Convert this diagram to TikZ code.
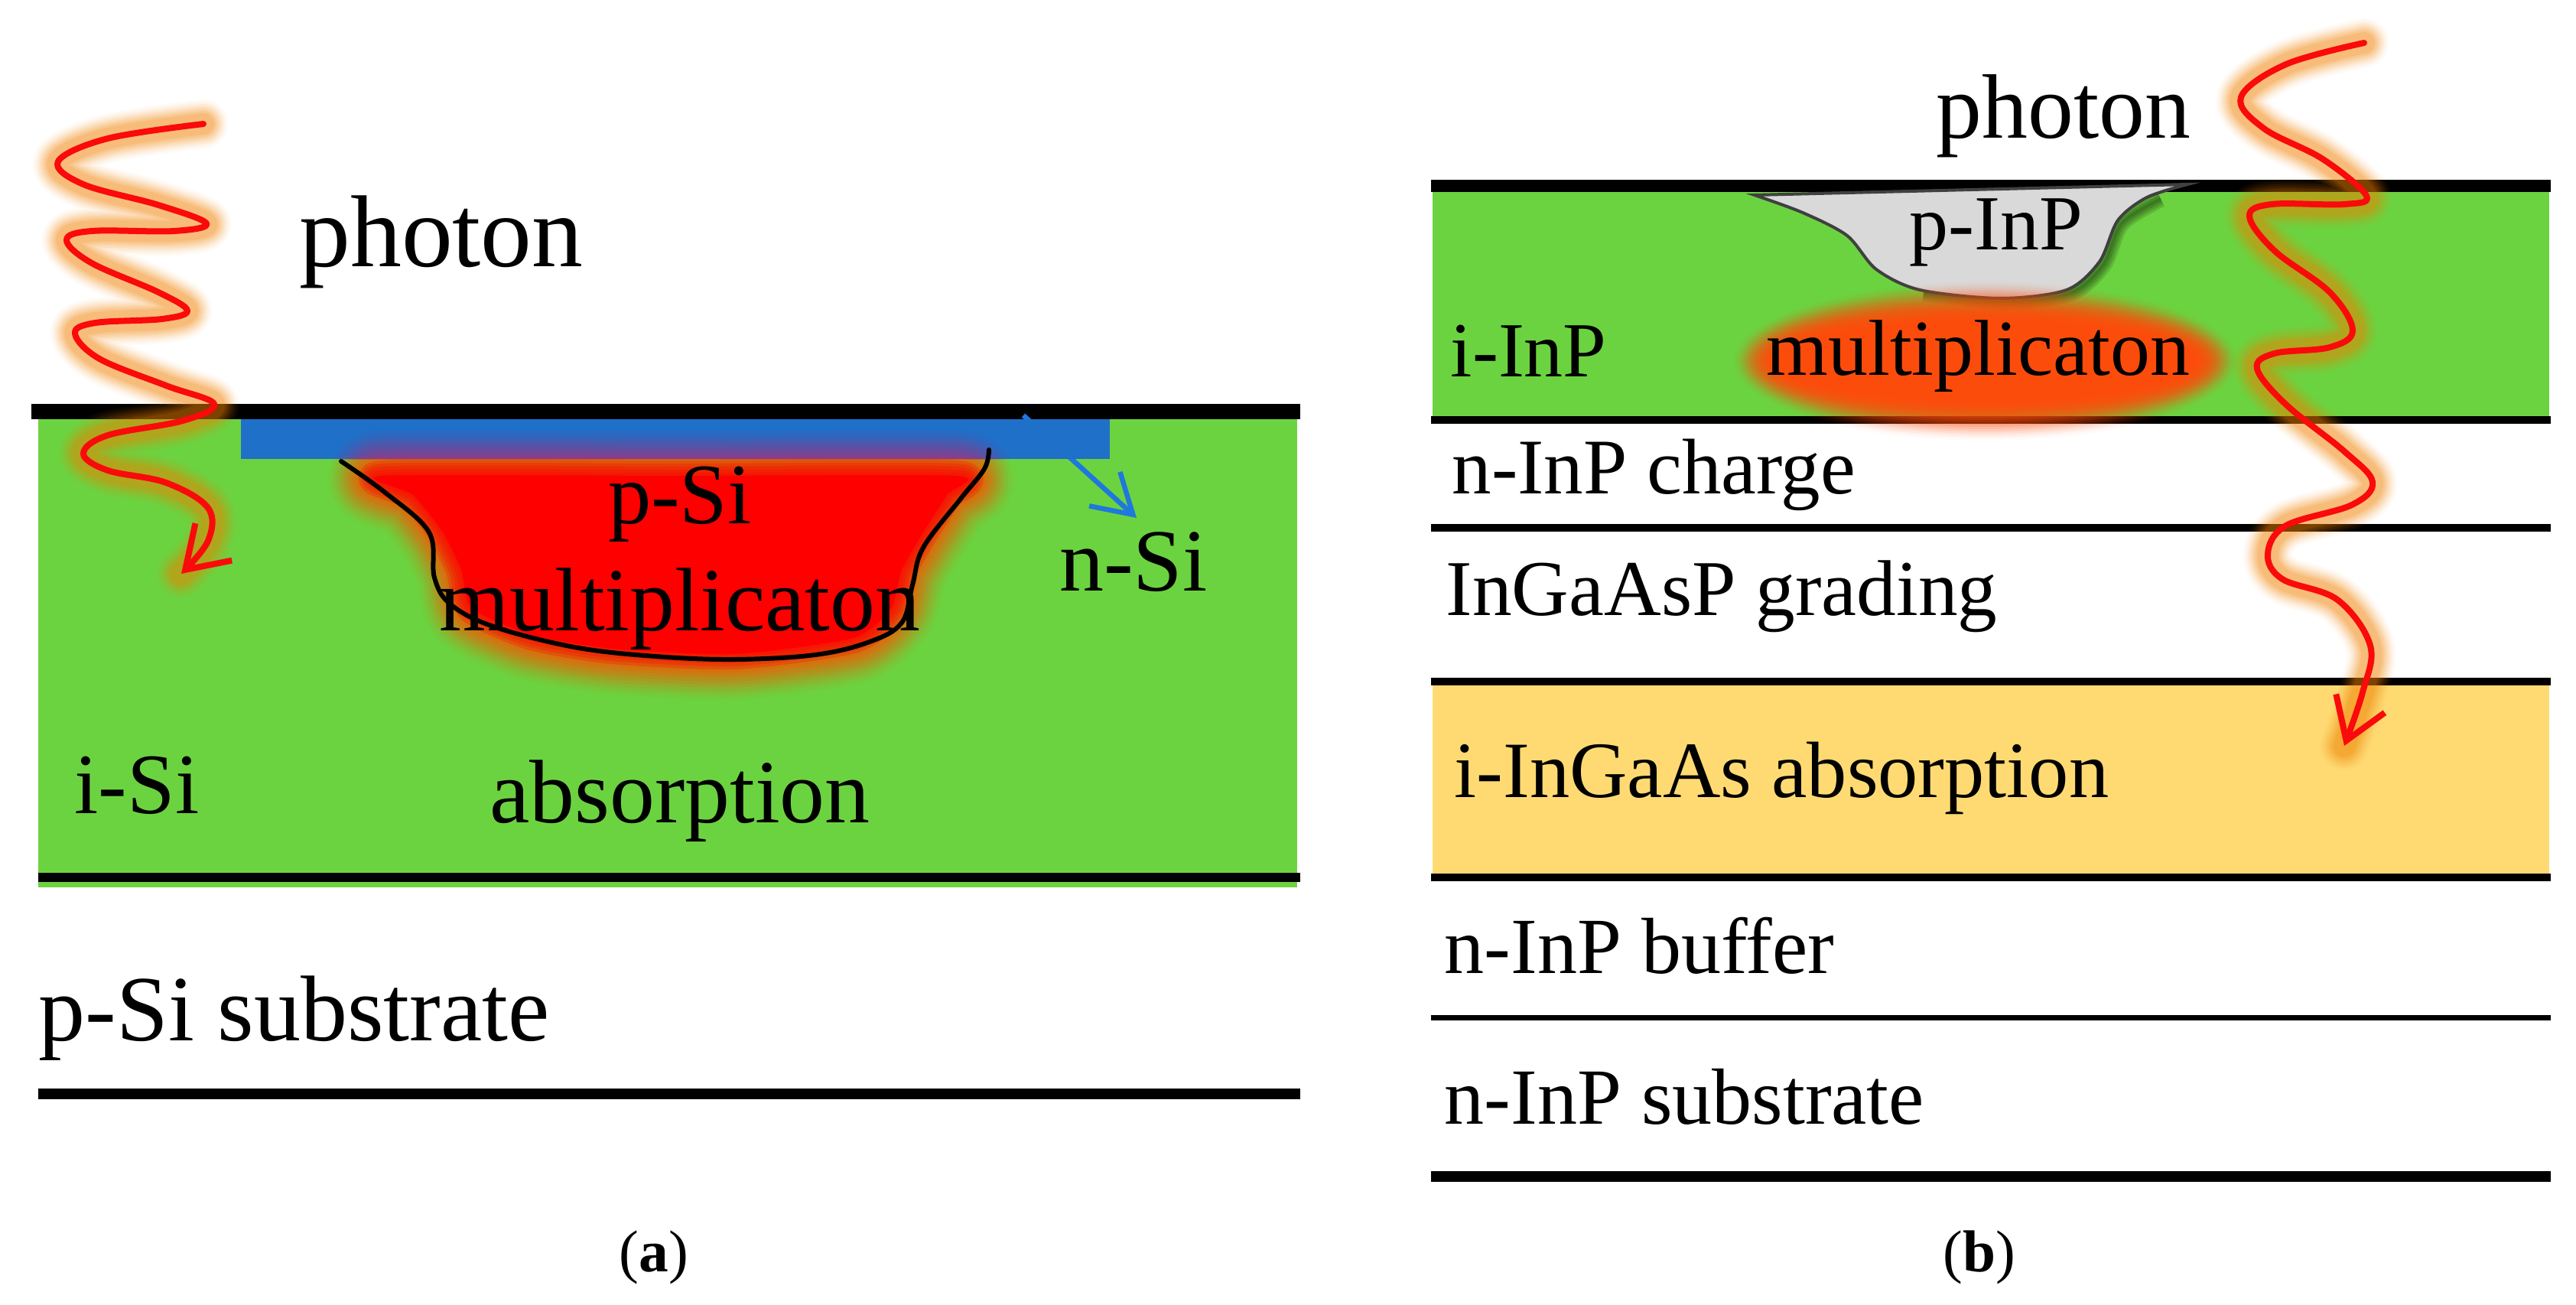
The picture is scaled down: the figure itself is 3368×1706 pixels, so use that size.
\documentclass[tikz,border=0pt]{standalone}
\usepackage{fontspec}
\setmainfont{Liberation Serif}
\usetikzlibrary{arrows.meta}
\definecolor{layergreen}{HTML}{6CD340}
\definecolor{layeryellow}{HTML}{FFDA73}
\definecolor{contactblue}{HTML}{1F70C8}
\definecolor{arrowblue}{HTML}{1F78DC}
\definecolor{glowpurple}{HTML}{B03078}
\definecolor{gloworange}{HTML}{FF5000}
\definecolor{coreorange}{HTML}{FF4C0C}
\definecolor{glowpale}{HTML}{F08000}
\definecolor{photonred}{HTML}{FA0A0A}
\tikzset{
 barline/.style={draw=black,line width=#1*0.01cm},
 photonline/.style={draw=photonred,line width=0.08cm,line cap=round,line join=round,-{Straight Barb[length=0.52cm,width=0.68cm]}},
 photonglow/.style={draw=glowpale,opacity=#1,line cap=round,line join=round},
 layerlabel/.style={anchor=base west,inner sep=0pt,font=\fontsize{#1}{#1}\selectfont},
 midlabel/.style={anchor=base,inner sep=0pt,font=\fontsize{#1}{#1}\selectfont},
 panellabel/.style={anchor=base,inner sep=0pt,font=\fontsize{22}{22}\selectfont}
}
\def\photonapath{plot[smooth,tension=0.6] coordinates {(266,162)(141,181)(76,211)(109,241)(207,268)(270,292)(228,302)(120,302)(87,314)(120,344)(207,382)(245,406)(212,417)(125,422)(98,436)(130,469)(217,504)(280,528)(239,550)(141,569)(109,593)(141,615)(217,631)(272,664)(272,707)(237,750)}}
\def\photonbpath{plot[smooth,tension=0.6] coordinates {(3091,56)(2989,84)(2930,127)(2960,168)(3037,208)(3094,256)(3065,267)(2970,267)(2941,283)(2974,328)(3046,382)(3076,432)(3046,454)(2974,462)(2951,482)(2989,529)(3065,590)(3102,630)(3075,660)(2989,687)(2965,724)(2984,757)(3056,784)(3099,844)(3089,905)(3065,975)}}
\def\blobpath{plot[smooth cycle,tension=0.4] coordinates {(500,622)(880,622)(1250,622)(1238,647)(1207,696)(1179,745)(1165,795)(1116,834)(961,855)(800,848)(695,830)(617,795)(603,745)(579,696)(540,647)}}
\begin{document}
\begin{tikzpicture}[x=0.01cm,y=-0.01cm]
 \useasboundingbox (0,0) rectangle (3368,1706);
 \fill[layergreen](50,548) rectangle (1696,1160);
 \fill[contactblue](315,548) rectangle (1451,600);
 \draw[barline=20](41,538)--(1700,538);
 \draw[barline=12](50,1147)--(1700,1147);
 \draw[barline=14](50,1430)--(1700,1430);
 \coordinate (bluestart) at (1338,543);
 \coordinate (blueend) at (1486,677);
 \draw[arrowblue,line width=0.065cm,-{Straight Barb[length=0.5cm,width=0.6cm]}](bluestart)--(blueend);
 \fill[contactblue](1300,548) rectangle (1451,600);
 \begin{scope}
  \clip (300,540) rectangle (1460,600);
  \foreach \w/\o in {120/0.03,112/0.05,104/0.07,96/0.09,88/0.11,80/0.13,72/0.15,64/0.17,56/0.19,48/0.21}
   \draw[glowpurple,opacity=\o,line width=\w*0.01cm,line join=round]\blobpath;
 \end{scope}
 \begin{scope}
  \clip (300,600) rectangle (1460,1000);
  \foreach \w/\o in {120/0.03,112/0.05,104/0.07,96/0.09,88/0.11,80/0.13,72/0.15,64/0.17,56/0.19,48/0.21}
   \draw[gloworange,opacity=\o,line width=\w*0.01cm,line join=round]\blobpath;
  \foreach \w in {40,32,24,16,8}
   \draw[red,opacity=0.25,line width=\w*0.01cm,line join=round]\blobpath;
 \end{scope}
 \fill[red]\blobpath;
 \draw[black,line width=0.06cm,line cap=round] plot[smooth,tension=0.6] coordinates {(446,603)(505,645)(561,696)(568,755)(589,790)(645,819)(751,846)(856,858)(961,862)(1066,856)(1137,839)(1179,814)(1193,765)(1207,716)(1256,652)(1287,613)(1293,588)};
 \foreach \w/\o in {64/0.04,58/0.06,52/0.08,46/0.1,40/0.12,34/0.14,28/0.16}
  \draw[photonglow=\o,line width=\w*0.01cm]\photonapath;
 \draw[photonline]\photonapath;
 \node[midlabel=38] (photona) at (577,348) {photon};
 \node[midlabel=32] (psia) at (889,684) {p-Si};
 \node[midlabel=33.5] (multa) at (889,824) {multiplicaton};
 \node[midlabel=33] (nsia) at (1482,772) {n-Si};
 \node[layerlabel=32] (isia) at (97,1063) {i-Si};
 \node[midlabel=33.5] (absa) at (889,1075) {absorption};
 \node[layerlabel=34.7] (suba) at (50,1360) {p-Si substrate};
 \node[panellabel] (panela) at (855,1662) {(\textbf{a})};
 \fill[layergreen](1873,250) rectangle (3333,549);
 \fill[layeryellow](1873,891) rectangle (3333,1147);
 \draw[barline=16](1871,243)--(3335,243);
 \draw[barline=10](1871,549)--(3335,549);
 \draw[barline=10](1871,690)--(3335,690);
 \draw[barline=10](1871,891)--(3335,891);
 \draw[barline=10](1871,1147)--(3335,1147);
 \draw[barline=7](1871,1330)--(3335,1330);
 \draw[barline=14](1871,1538)--(3335,1538);
 \foreach \w in {22,16,10,4}
  \draw[black,opacity=0.13,line width=\w*0.01cm,shift={(5,4)}] plot[smooth,tension=0.5] coordinates {(2820,256)(2769,288)(2745,342)(2702,379)(2616,390)(2510,379)};
 \draw[fill=gray!30,draw=black!75,line width=0.04cm] plot[smooth,tension=0.5] coordinates {(2294,255)(2357,278)(2415,308)(2453,352)(2510,379)(2616,390)(2702,379)(2745,342)(2769,288)(2807,258)(2860,241)}--cycle;
 \foreach \k in {0,...,17} {
  \pgfmathsetmacro\o{0.02+0.022*\k}
  \fill[coreorange,opacity=\o](2596,472) ellipse ({330-3.2*\k} and {104-3*\k});
 }
 \foreach \w/\o in {64/0.04,58/0.06,52/0.08,46/0.1,40/0.12,34/0.14,28/0.16}
  \draw[photonglow=\o,line width=\w*0.01cm]\photonbpath;
 \draw[photonline]\photonbpath;
 \node[midlabel=34] (photonb) at (2698,181) {photon};
 \node[midlabel=29] (pinpb) at (2610,327) {p-InP};
 \node[layerlabel=29] (iinpb) at (1896,492) {i-InP};
 \node[layerlabel=29.5] (multb) at (2309,491) {multiplicaton};
 \node[layerlabel=29.3] (chargeb) at (1898,645) {n-InP charge};
 \node[layerlabel=29.4] (gradb) at (1890,804) {InGaAsP grading};
 \node[layerlabel=29.7] (absb) at (1901,1042) {i-InGaAs absorption};
 \node[layerlabel=29.6] (bufb) at (1888,1272) {n-InP buffer};
 \node[layerlabel=29.6] (subb) at (1888,1469) {n-InP substrate};
 \node[panellabel] (panelb) at (2588,1662) {(\textbf{b})};
\end{tikzpicture}
\end{document}
